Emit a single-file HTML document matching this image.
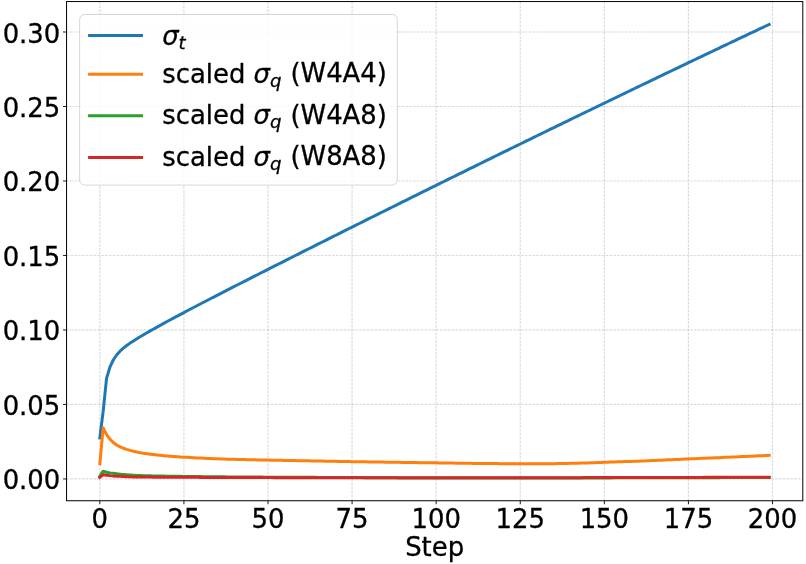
<!DOCTYPE html>
<html><head><meta charset="utf-8"><title>sigma plot</title>
<style>
html,body{margin:0;padding:0;background:#fff;}
svg{display:block;}
text{font-family:"DejaVu Sans","Liberation Sans",sans-serif;fill:#000;stroke:#000;stroke-width:0.3px;stroke-linejoin:round;}
</style></head><body>
<svg xmlns="http://www.w3.org/2000/svg" width="806" height="564" viewBox="0 0 806 564">
<rect width="806" height="564" fill="#fff"/>
<g stroke="#b0b0b0" stroke-opacity="0.44" stroke-width="1.2" stroke-dasharray="2.7,1.15" fill="none"><line x1="99.82" x2="99.82" y1="1.55" y2="500.75"/><line x1="183.91" x2="183.91" y1="1.55" y2="500.75"/><line x1="268.00" x2="268.00" y1="1.55" y2="500.75"/><line x1="352.08" x2="352.08" y1="1.55" y2="500.75"/><line x1="436.17" x2="436.17" y1="1.55" y2="500.75"/><line x1="520.26" x2="520.26" y1="1.55" y2="500.75"/><line x1="604.35" x2="604.35" y1="1.55" y2="500.75"/><line x1="688.43" x2="688.43" y1="1.55" y2="500.75"/><line x1="772.52" x2="772.52" y1="1.55" y2="500.75"/><line x1="66.55" x2="802.8" y1="478.95" y2="478.95"/><line x1="66.55" x2="802.8" y1="404.46" y2="404.46"/><line x1="66.55" x2="802.8" y1="329.97" y2="329.97"/><line x1="66.55" x2="802.8" y1="255.48" y2="255.48"/><line x1="66.55" x2="802.8" y1="180.99" y2="180.99"/><line x1="66.55" x2="802.8" y1="106.50" y2="106.50"/><line x1="66.55" x2="802.8" y1="32.01" y2="32.01"/></g>
<polyline points="99.82,437.83 103.18,411.16 106.55,378.34 109.91,367.24 113.27,360.00 116.64,354.96 120.00,351.18 123.36,348.12 126.73,345.49 130.09,343.11 133.45,340.90 136.82,338.78 140.18,336.74 143.55,334.75 146.91,332.79 150.27,330.86 153.64,328.96 157.00,327.07 160.36,325.21 163.73,323.36 167.09,321.52 170.45,319.71 173.82,317.91 177.18,316.11 180.54,314.33 183.91,312.55 187.27,310.78 190.63,309.02 194.00,307.26 197.36,305.51 200.72,303.76 204.09,302.01 207.45,300.27 210.82,298.54 214.18,296.80 217.54,295.07 220.91,293.35 224.27,291.62 227.63,289.90 231.00,288.18 234.36,286.46 237.72,284.74 241.09,283.03 244.45,281.32 247.81,279.60 251.18,277.89 254.54,276.19 257.90,274.48 261.27,272.77 264.63,271.07 268.00,269.37 271.36,267.66 274.72,265.96 278.09,264.26 281.45,262.56 284.81,260.86 288.18,259.17 291.54,257.47 294.90,255.78 298.27,254.08 301.63,252.39 304.99,250.70 308.36,249.00 311.72,247.31 315.08,245.62 318.45,243.93 321.81,242.25 325.17,240.56 328.54,238.87 331.90,237.19 335.26,235.50 338.63,233.82 341.99,232.13 345.36,230.45 348.72,228.77 352.08,227.09 355.45,225.41 358.81,223.73 362.17,222.05 365.54,220.37 368.90,218.69 372.26,217.02 375.63,215.34 378.99,213.67 382.35,211.99 385.72,210.32 389.08,208.65 392.44,206.97 395.81,205.30 399.17,203.63 402.54,201.96 405.90,200.29 409.26,198.62 412.63,196.96 415.99,195.29 419.35,193.62 422.72,191.96 426.08,190.29 429.44,188.63 432.81,186.97 436.17,185.30 439.53,183.64 442.90,181.98 446.26,180.32 449.62,178.66 452.99,177.00 456.35,175.34 459.71,173.69 463.08,172.03 466.44,170.37 469.81,168.72 473.17,167.06 476.53,165.41 479.90,163.76 483.26,162.10 486.62,160.45 489.99,158.80 493.35,157.15 496.71,155.50 500.08,153.85 503.44,152.20 506.80,150.56 510.17,148.91 513.53,147.26 516.89,145.62 520.26,143.98 523.62,142.33 526.98,140.69 530.35,139.05 533.71,137.40 537.08,135.76 540.44,134.12 543.80,132.48 547.17,130.85 550.53,129.21 553.89,127.57 557.26,125.93 560.62,124.30 563.98,122.66 567.35,121.03 570.71,119.40 574.07,117.76 577.44,116.13 580.80,114.50 584.16,112.87 587.53,111.24 590.89,109.61 594.25,107.98 597.62,106.36 600.98,104.73 604.35,103.10 607.71,101.48 611.07,99.85 614.44,98.23 617.80,96.61 621.16,94.99 624.53,93.37 627.89,91.74 631.25,90.12 634.62,88.51 637.98,86.89 641.34,85.27 644.71,83.65 648.07,82.04 651.43,80.42 654.80,78.81 658.16,77.20 661.52,75.58 664.89,73.97 668.25,72.36 671.62,70.75 674.98,69.14 678.34,67.53 681.71,65.93 685.07,64.32 688.43,62.71 691.80,61.11 695.16,59.50 698.52,57.90 701.89,56.30 705.25,54.70 708.61,53.09 711.98,51.49 715.34,49.90 718.70,48.30 722.07,46.70 725.43,45.10 728.79,43.51 732.16,41.91 735.52,40.32 738.88,38.72 742.25,37.13 745.61,35.54 748.98,33.95 752.34,32.36 755.70,30.77 759.07,29.18 762.43,27.60 765.79,26.01 769.16,24.43" fill="none" stroke="#1f77b4" stroke-width="3" stroke-linejoin="round" stroke-linecap="square"/>
<polyline points="99.82,463.75 103.18,427.85 106.55,434.55 109.91,439.17 113.27,442.45 116.64,444.98 120.00,446.84 123.36,448.23 126.73,449.40 130.09,450.39 133.45,451.26 136.82,452.02 140.18,452.67 143.55,453.21 146.91,453.69 150.27,454.14 153.64,454.57 157.00,454.97 160.36,455.33 163.73,455.64 167.09,455.92 170.45,456.18 173.82,456.44 177.18,456.70 180.54,456.93 183.91,457.15 187.27,457.36 190.63,457.56 194.00,457.76 197.36,457.95 200.72,458.12 204.09,458.29 207.45,458.44 210.82,458.58 214.18,458.71 217.54,458.83 220.91,458.95 224.27,459.06 227.63,459.16 231.00,459.26 234.36,459.35 237.72,459.45 241.09,459.53 244.45,459.61 247.81,459.69 251.18,459.77 254.54,459.84 257.90,459.91 261.27,459.97 264.63,460.04 268.00,460.10 271.36,460.17 274.72,460.23 278.09,460.29 281.45,460.34 284.81,460.40 288.18,460.46 291.54,460.52 294.90,460.58 298.27,460.64 301.63,460.70 304.99,460.77 308.36,460.84 311.72,460.90 315.08,460.97 318.45,461.04 321.81,461.10 325.17,461.17 328.54,461.23 331.90,461.30 335.26,461.36 338.63,461.42 341.99,461.48 345.36,461.54 348.72,461.60 352.08,461.65 355.45,461.71 358.81,461.76 362.17,461.81 365.54,461.86 368.90,461.92 372.26,461.96 375.63,462.01 378.99,462.06 382.35,462.11 385.72,462.16 389.08,462.21 392.44,462.25 395.81,462.30 399.17,462.35 402.54,462.40 405.90,462.44 409.26,462.49 412.63,462.54 415.99,462.58 419.35,462.63 422.72,462.68 426.08,462.72 429.44,462.77 432.81,462.81 436.17,462.86 439.53,462.91 442.90,462.96 446.26,463.01 449.62,463.06 452.99,463.11 456.35,463.16 459.71,463.21 463.08,463.25 466.44,463.30 469.81,463.34 473.17,463.38 476.53,463.42 479.90,463.46 483.26,463.49 486.62,463.52 489.99,463.56 493.35,463.59 496.71,463.62 500.08,463.65 503.44,463.68 506.80,463.71 510.17,463.73 513.53,463.74 516.89,463.75 520.26,463.75 523.62,463.75 526.98,463.75 530.35,463.74 533.71,463.73 537.08,463.72 540.44,463.71 543.80,463.70 547.17,463.68 550.53,463.67 553.89,463.65 557.26,463.62 560.62,463.57 563.98,463.52 567.35,463.45 570.71,463.37 574.07,463.29 577.44,463.21 580.80,463.12 584.16,463.02 587.53,462.91 590.89,462.78 594.25,462.65 597.62,462.52 600.98,462.39 604.35,462.26 607.71,462.15 611.07,462.04 614.44,461.93 617.80,461.82 621.16,461.71 624.53,461.61 627.89,461.50 631.25,461.38 634.62,461.27 637.98,461.15 641.34,461.02 644.71,460.89 648.07,460.75 651.43,460.61 654.80,460.46 658.16,460.32 661.52,460.16 664.89,460.01 668.25,459.86 671.62,459.70 674.98,459.55 678.34,459.39 681.71,459.24 685.07,459.09 688.43,458.94 691.80,458.80 695.16,458.65 698.52,458.51 701.89,458.36 705.25,458.22 708.61,458.08 711.98,457.94 715.34,457.79 718.70,457.65 722.07,457.50 725.43,457.36 728.79,457.21 732.16,457.07 735.52,456.92 738.88,456.77 742.25,456.62 745.61,456.46 748.98,456.31 752.34,456.15 755.70,455.99 759.07,455.83 762.43,455.67 765.79,455.51 769.16,455.35" fill="none" stroke="#ff7f0e" stroke-width="3" stroke-linejoin="round" stroke-linecap="square"/>
<polyline points="99.82,476.27 103.18,471.20 106.55,472.25 109.91,472.88 113.27,473.35 116.64,473.76 120.00,474.15 123.36,474.51 126.73,474.83 130.09,475.08 133.45,475.27 136.82,475.40 140.18,475.52 143.55,475.63 146.91,475.73 150.27,475.82 153.64,475.90 157.00,475.98 160.36,476.05 163.73,476.11 167.09,476.17 170.45,476.23 173.82,476.28 177.18,476.33 180.54,476.37 183.91,476.42 187.27,476.46 190.63,476.50 194.00,476.54 197.36,476.58 200.72,476.62 204.09,476.66 207.45,476.69 210.82,476.73 214.18,476.76 217.54,476.79 220.91,476.82 224.27,476.85 227.63,476.88 231.00,476.91 234.36,476.94 237.72,476.96 241.09,476.99 244.45,477.01 247.81,477.03 251.18,477.06 254.54,477.08 257.90,477.10 261.27,477.12 264.63,477.14 268.00,477.16 271.36,477.18 274.72,477.20 278.09,477.22 281.45,477.23 284.81,477.25 288.18,477.26 291.54,477.28 294.90,477.29 298.27,477.31 301.63,477.32 304.99,477.33 308.36,477.34 311.72,477.36 315.08,477.37 318.45,477.38 321.81,477.40 325.17,477.41 328.54,477.42 331.90,477.44 335.26,477.45 338.63,477.47 341.99,477.48 345.36,477.50 348.72,477.52 352.08,477.53 355.45,477.55 358.81,477.58 362.17,477.60 365.54,477.63 368.90,477.65 372.26,477.68 375.63,477.71 378.99,477.74 382.35,477.76 385.72,477.79 389.08,477.82 392.44,477.84 395.81,477.87 399.17,477.89 402.54,477.91 405.90,477.93 409.26,477.95 412.63,477.97 415.99,477.99 419.35,478.00 422.72,478.02 426.08,478.04 429.44,478.05 432.81,478.05 436.17,478.06 439.53,478.06 442.90,478.06 446.26,478.06 449.62,478.05 452.99,478.05 456.35,478.05 459.71,478.05 463.08,478.05 466.44,478.05 469.81,478.05 473.17,478.05 476.53,478.04 479.90,478.04 483.26,478.04 486.62,478.04 489.99,478.03 493.35,478.03 496.71,478.03 500.08,478.03 503.44,478.02 506.80,478.02 510.17,478.02 513.53,478.01 516.89,478.01 520.26,478.01 523.62,478.00 526.98,478.00 530.35,477.99 533.71,477.99 537.08,477.99 540.44,477.98 543.80,477.98 547.17,477.97 550.53,477.97 553.89,477.96 557.26,477.96 560.62,477.95 563.98,477.95 567.35,477.94 570.71,477.94 574.07,477.93 577.44,477.93 580.80,477.92 584.16,477.92 587.53,477.91 590.89,477.91 594.25,477.90 597.62,477.90 600.98,477.89 604.35,477.89 607.71,477.88 611.07,477.88 614.44,477.87 617.80,477.87 621.16,477.86 624.53,477.85 627.89,477.85 631.25,477.84 634.62,477.84 637.98,477.83 641.34,477.83 644.71,477.82 648.07,477.81 651.43,477.81 654.80,477.80 658.16,477.79 661.52,477.79 664.89,477.78 668.25,477.77 671.62,477.76 674.98,477.76 678.34,477.75 681.71,477.74 685.07,477.73 688.43,477.72 691.80,477.71 695.16,477.70 698.52,477.69 701.89,477.68 705.25,477.67 708.61,477.66 711.98,477.65 715.34,477.64 718.70,477.63 722.07,477.62 725.43,477.61 728.79,477.60 732.16,477.59 735.52,477.58 738.88,477.56 742.25,477.55 745.61,477.54 748.98,477.53 752.34,477.52 755.70,477.51 759.07,477.50 762.43,477.48 765.79,477.47 769.16,477.46" fill="none" stroke="#2ca02c" stroke-width="3" stroke-linejoin="round" stroke-linecap="square"/>
<polyline points="99.82,477.46 103.18,474.70 106.55,475.23 109.91,475.62 113.27,475.92 116.64,476.15 120.00,476.37 123.36,476.56 126.73,476.72 130.09,476.85 133.45,476.93 136.82,476.98 140.18,477.02 143.55,477.06 146.91,477.09 150.27,477.12 153.64,477.15 157.00,477.17 160.36,477.19 163.73,477.21 167.09,477.23 170.45,477.25 173.82,477.26 177.18,477.28 180.54,477.29 183.91,477.31 187.27,477.33 190.63,477.34 194.00,477.36 197.36,477.37 200.72,477.39 204.09,477.40 207.45,477.42 210.82,477.43 214.18,477.44 217.54,477.46 220.91,477.47 224.27,477.48 227.63,477.49 231.00,477.50 234.36,477.52 237.72,477.53 241.09,477.54 244.45,477.55 247.81,477.56 251.18,477.57 254.54,477.58 257.90,477.58 261.27,477.59 264.63,477.60 268.00,477.61 271.36,477.62 274.72,477.63 278.09,477.63 281.45,477.64 284.81,477.65 288.18,477.66 291.54,477.67 294.90,477.67 298.27,477.68 301.63,477.69 304.99,477.70 308.36,477.70 311.72,477.71 315.08,477.72 318.45,477.72 321.81,477.73 325.17,477.74 328.54,477.74 331.90,477.75 335.26,477.75 338.63,477.75 341.99,477.75 345.36,477.76 348.72,477.76 352.08,477.76 355.45,477.76 358.81,477.76 362.17,477.76 365.54,477.76 368.90,477.76 372.26,477.76 375.63,477.76 378.99,477.76 382.35,477.76 385.72,477.76 389.08,477.76 392.44,477.76 395.81,477.76 399.17,477.76 402.54,477.76 405.90,477.76 409.26,477.76 412.63,477.76 415.99,477.76 419.35,477.76 422.72,477.76 426.08,477.76 429.44,477.76 432.81,477.76 436.17,477.76 439.53,477.76 442.90,477.76 446.26,477.76 449.62,477.76 452.99,477.76 456.35,477.75 459.71,477.75 463.08,477.75 466.44,477.75 469.81,477.75 473.17,477.75 476.53,477.75 479.90,477.74 483.26,477.74 486.62,477.74 489.99,477.74 493.35,477.73 496.71,477.73 500.08,477.73 503.44,477.72 506.80,477.72 510.17,477.72 513.53,477.71 516.89,477.71 520.26,477.71 523.62,477.70 526.98,477.70 530.35,477.70 533.71,477.69 537.08,477.69 540.44,477.68 543.80,477.68 547.17,477.67 550.53,477.67 553.89,477.67 557.26,477.66 560.62,477.66 563.98,477.65 567.35,477.65 570.71,477.64 574.07,477.64 577.44,477.63 580.80,477.63 584.16,477.62 587.53,477.62 590.89,477.61 594.25,477.61 597.62,477.60 600.98,477.60 604.35,477.59 607.71,477.58 611.07,477.58 614.44,477.57 617.80,477.57 621.16,477.56 624.53,477.56 627.89,477.55 631.25,477.55 634.62,477.54 637.98,477.53 641.34,477.53 644.71,477.52 648.07,477.52 651.43,477.51 654.80,477.50 658.16,477.50 661.52,477.49 664.89,477.48 668.25,477.47 671.62,477.47 674.98,477.46 678.34,477.45 681.71,477.44 685.07,477.43 688.43,477.42 691.80,477.41 695.16,477.40 698.52,477.39 701.89,477.38 705.25,477.37 708.61,477.36 711.98,477.35 715.34,477.34 718.70,477.33 722.07,477.32 725.43,477.31 728.79,477.30 732.16,477.29 735.52,477.28 738.88,477.27 742.25,477.26 745.61,477.24 748.98,477.23 752.34,477.22 755.70,477.21 759.07,477.20 762.43,477.19 765.79,477.17 769.16,477.16" fill="none" stroke="#d62728" stroke-width="3" stroke-linejoin="round" stroke-linecap="square"/>
<rect x="66.55" y="1.55" width="736.25" height="499.2" fill="none" stroke="#000" stroke-width="1"/>
<g stroke="#000" stroke-width="0.9"><line x1="99.82" x2="99.82" y1="500.75" y2="504.25"/><line x1="183.91" x2="183.91" y1="500.75" y2="504.25"/><line x1="268.00" x2="268.00" y1="500.75" y2="504.25"/><line x1="352.08" x2="352.08" y1="500.75" y2="504.25"/><line x1="436.17" x2="436.17" y1="500.75" y2="504.25"/><line x1="520.26" x2="520.26" y1="500.75" y2="504.25"/><line x1="604.35" x2="604.35" y1="500.75" y2="504.25"/><line x1="688.43" x2="688.43" y1="500.75" y2="504.25"/><line x1="772.52" x2="772.52" y1="500.75" y2="504.25"/><line x1="63.05" x2="66.55" y1="478.95" y2="478.95"/><line x1="63.05" x2="66.55" y1="404.46" y2="404.46"/><line x1="63.05" x2="66.55" y1="329.97" y2="329.97"/><line x1="63.05" x2="66.55" y1="255.48" y2="255.48"/><line x1="63.05" x2="66.55" y1="180.99" y2="180.99"/><line x1="63.05" x2="66.55" y1="106.50" y2="106.50"/><line x1="63.05" x2="66.55" y1="32.01" y2="32.01"/></g>
<g font-size="25.9px">
<text x="99.82" y="527.7" text-anchor="middle">0</text>
<text x="183.91" y="527.7" text-anchor="middle">25</text>
<text x="268.00" y="527.7" text-anchor="middle">50</text>
<text x="352.08" y="527.7" text-anchor="middle">75</text>
<text x="436.17" y="527.7" text-anchor="middle">100</text>
<text x="520.26" y="527.7" text-anchor="middle">125</text>
<text x="604.35" y="527.7" text-anchor="middle">150</text>
<text x="688.43" y="527.7" text-anchor="middle">175</text>
<text x="772.52" y="527.7" text-anchor="middle">200</text>
<text x="60.3" y="489.45" text-anchor="end">0.00</text>
<text x="60.3" y="414.96" text-anchor="end">0.05</text>
<text x="60.3" y="340.47" text-anchor="end">0.10</text>
<text x="60.3" y="265.98" text-anchor="end">0.15</text>
<text x="60.3" y="191.49" text-anchor="end">0.20</text>
<text x="60.3" y="117.00" text-anchor="end">0.25</text>
<text x="60.3" y="42.51" text-anchor="end">0.30</text>
<text x="434.67" y="556.0" text-anchor="middle">Step</text>
</g>
<rect x="79.66" y="14.45" width="317.64" height="170.65" rx="5.2" ry="5.2" fill="#fff" fill-opacity="0.8" stroke="#ccc" stroke-opacity="0.8" stroke-width="1"/>
<line x1="88.1" x2="143.0" y1="35.5" y2="35.5" stroke="#1f77b4" stroke-width="3"/>
<line x1="88.1" x2="143.0" y1="74.2" y2="74.2" stroke="#ff7f0e" stroke-width="3"/>
<line x1="88.1" x2="143.0" y1="115.8" y2="115.8" stroke="#2ca02c" stroke-width="3"/>
<line x1="88.1" x2="143.0" y1="157.4" y2="157.4" stroke="#d62728" stroke-width="3"/>
<text x="162.2" y="44.5" font-size="25.9px" xml:space="preserve" style="white-space:pre"><tspan font-style="italic">σ</tspan><tspan font-style="italic" font-size="18.13px" dy="4.0">t</tspan></text>
<text x="162.2" y="82.7" font-size="25.9px" xml:space="preserve" style="white-space:pre">scaled <tspan font-style="italic">σ</tspan><tspan font-style="italic" font-size="18.13px" dy="4.0">q</tspan><tspan dy="-4.5" dx="0.7"> (W4A4)</tspan></text>
<text x="162.2" y="124.45" font-size="25.9px" xml:space="preserve" style="white-space:pre">scaled <tspan font-style="italic">σ</tspan><tspan font-style="italic" font-size="18.13px" dy="4.0">q</tspan><tspan dy="-4.5" dx="0.7"> (W4A8)</tspan></text>
<text x="162.2" y="165.8" font-size="25.9px" xml:space="preserve" style="white-space:pre">scaled <tspan font-style="italic">σ</tspan><tspan font-style="italic" font-size="18.13px" dy="4.0">q</tspan><tspan dy="-4.5" dx="0.7"> (W8A8)</tspan></text>
</svg></body></html>
